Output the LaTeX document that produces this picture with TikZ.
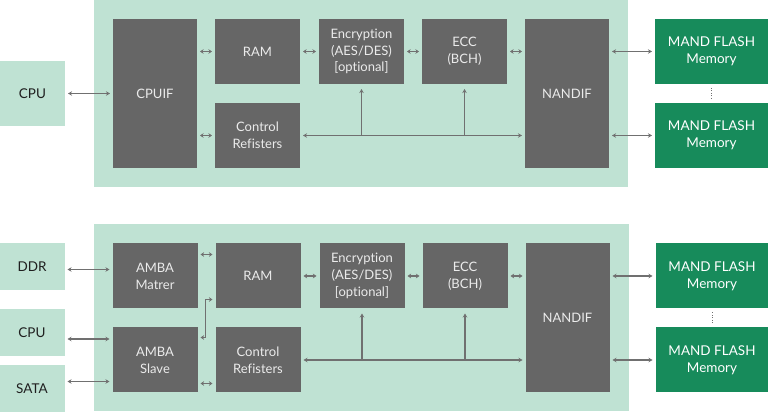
\documentclass[tikz,border=0pt]{standalone}
\usepackage{fontspec}
\setmainfont{Lato}[Ligatures=NoCommon]
\usepackage{xcolor}
\usetikzlibrary{positioning,arrows.meta,fit,backgrounds}
\definecolor{bandcolor}{RGB}{191,226,211}
\definecolor{blockcolor}{RGB}{102,102,102}
\definecolor{flashcolor}{RGB}{23,139,91}
\definecolor{linecolor}{RGB}{112,112,112}
\tikzset{
  blk/.style={fill=blockcolor, minimum height=65pt, minimum width=85pt, outer sep=0pt, text=white!92!black, font=\fontsize{13}{16.8}\selectfont, align=center, inner sep=2pt},
  tall/.style={blk, minimum height=149pt, minimum width=84pt},
  inp/.style={fill=bandcolor, minimum height=47pt, minimum width=65pt, outer sep=0pt, text=black!88, font=\fontsize{13.5}{16.8}\selectfont, align=center},
  mem/.style={fill=flashcolor, minimum height=65pt, minimum width=113pt, outer sep=0pt, text=white, font=\fontsize{13.5}{16.8}\selectfont, align=center},
  band/.style={fill=bandcolor, inner sep=19pt},
  flow/.style={{Stealth[length=4pt,width=4.5pt]}-{Stealth[length=4pt,width=4.5pt]}, line width=1.3pt, draw=linecolor, shorten <=3pt, shorten >=3pt},
  lnk/.style={{Stealth[length=3.5pt,width=4.5pt]}-{Stealth[length=3.5pt,width=4.5pt]}, line width=1.1pt, draw=linecolor, shorten <=3pt, shorten >=3pt},
  up/.style={-{Stealth[length=4pt,width=4.5pt]}, line width=1.3pt, draw=linecolor, shorten >=5pt},
  dots/.style={draw=linecolor, line width=1pt, dash pattern=on 1pt off 1.5pt, shorten <=4pt, shorten >=4pt},
}
\begin{document}
\begin{tikzpicture}
\useasboundingbox (0,0) rectangle (768pt,412pt);
\node[tall] (cpuif) at (155pt,318.5pt) {CPUIF};
\node[blk, right=18pt of cpuif.north east, anchor=north west] (ram) {RAM};
\node[blk, right=19pt of ram] (enc) {Encryption\\(AES/DES)\\{[optional]}};
\node[blk, right=18pt of enc] (ecc) {ECC\\(BCH)};
\node[tall, right=18pt of ecc.north east, anchor=north west] (nandif) {NANDIF};
\node[blk, below=19pt of ram] (ctrl) {Control\\Refisters};
\node[inp, minimum height=65pt, left=48pt of cpuif] (cpu) {CPU};
\node[mem, right=46pt of nandif.north east, anchor=north west] (flasha) {MAND FLASH\\Memory};
\node[mem, right=46pt of nandif.south east, anchor=south west] (flashb) {MAND FLASH\\Memory};
\node[blk] (matrer) at (155pt,136pt) {AMBA\\Matrer};
\node[blk, below=19pt of matrer] (slave) {AMBA\\Slave};
\node[blk, right=18pt of matrer] (ramb) {RAM};
\node[blk, right=19pt of ramb] (encb) {Encryption\\(AES/DES)\\{[optional]}};
\node[blk, right=18pt of encb] (eccb) {ECC\\(BCH)};
\node[tall, right=18pt of eccb.north east, anchor=north west] (nandifb) {NANDIF};
\node[blk, below=19pt of ramb] (ctrlb) {Control\\Refisters};
\node[inp, left=48pt of matrer.north west, anchor=north east] (ddr) {DDR};
\node[inp, below=19pt of ddr] (cpub) {CPU};
\node[inp, below=9pt of cpub] (sata) {SATA};
\node[mem, right=46pt of nandifb.north east, anchor=north west] (flashc) {MAND FLASH\\Memory};
\node[mem, right=46pt of nandifb.south east, anchor=south west] (flashd) {MAND FLASH\\Memory};
\begin{scope}[on background layer]
\node[band, fit=(cpuif)(nandif)] (bt) {};
\node[band, fit=(matrer)(slave)(nandifb)] (bb) {};
\end{scope}
\draw[flow] (cpu) -- (cpuif);
\draw[lnk] (cpuif.east |- ram) -- (ram);
\draw[lnk] (ram) -- (enc);
\draw[lnk] (enc) -- (ecc);
\draw[lnk] (ecc) -- (ecc -| nandif.west);
\draw[lnk] (cpuif.east |- ctrl) -- (ctrl);
\draw[flow] (ctrl) -- (ctrl -| nandif.west);
\draw[up] (enc |- ctrl) -- (enc);
\draw[up] (ecc |- ctrl) -- (ecc);
\draw[flow] (nandif.east |- flasha) -- (flasha);
\draw[flow] (nandif.east |- flashb) -- (flashb);
\draw[dots] (flasha) -- (flashb);
\draw[flow] ([yshift=-2.5pt]ddr.east) -- ([yshift=-2.5pt]ddr.east -| matrer.west);
\draw[flow] ([yshift=-6pt]cpub.east) -- ([yshift=-6pt]cpub.east -| slave.west);
\draw[flow] ([yshift=7.5pt]sata.east) -- ([yshift=7.5pt]sata.east -| slave.west);
\draw[lnk] ([yshift=-11pt]matrer.north east) -- ([yshift=-11pt]ramb.north west);
\draw[lnk] ([yshift=-10pt]slave.north east) -| ([xshift=-10pt,yshift=9pt]ramb.south west) -- ([yshift=9pt]ramb.south west);
\draw[lnk] ([yshift=9pt]slave.south east) -- ([yshift=9pt]ctrlb.south west);
\draw[lnk] (ramb) -- (encb);
\draw[lnk] (encb) -- (eccb);
\draw[lnk] (eccb) -- (eccb -| nandifb.west);
\draw[flow] (ctrlb) -- (ctrlb -| nandifb.west);
\draw[up] (encb |- ctrlb) -- (encb);
\draw[up] (eccb |- ctrlb) -- (eccb);
\draw[flow] (nandifb.east |- flashc) -- (flashc);
\draw[flow] (nandifb.east |- flashd) -- (flashd);
\draw[dots] (flashc) -- (flashd);
\end{tikzpicture}
\end{document}
